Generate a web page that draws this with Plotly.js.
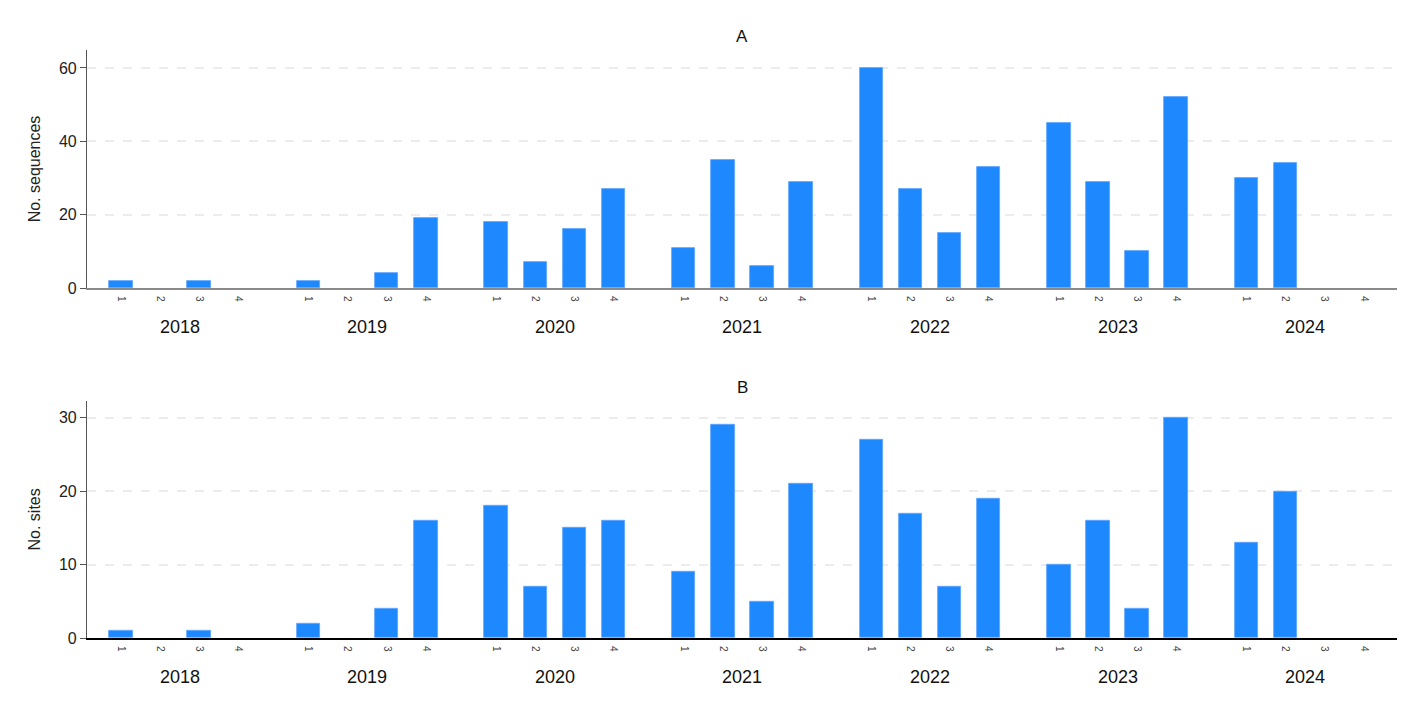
<!DOCTYPE html>
<html>
<head>
<meta charset="utf-8">
<script src="https://cdn.plot.ly/plotly-3.0.1.min.js"></script>
<style>html,body{margin:0;padding:0;background:#fff;}#chart{width:1422px;height:725px;}</style>
</head>
<body>
<div id="chart"></div>
<script>
// ---- data ----
const years = [2018, 2019, 2020, 2021, 2022, 2023, 2024];
const quarters = [1, 2, 3, 4];
const sequences = [
  2, 0, 2, 0,
  2, 0, 4, 19,
  18, 7, 16, 27,
  11, 35, 6, 29,
  60, 27, 15, 33,
  45, 29, 10, 52,
  30, 34, 0, 0
];
const sites = [
  1, 0, 1, 0,
  2, 0, 4, 16,
  18, 7, 15, 16,
  9, 29, 5, 21,
  27, 17, 7, 19,
  10, 16, 4, 30,
  13, 20, 0, 0
];

// ---- layout helpers ----
const YEAR_STEP = 4.8;
const xs = [], tickText = [];
years.forEach((y, yi) => quarters.forEach((q, qi) => { xs.push(yi * YEAR_STEP + qi); tickText.push(String(q)); }));
const yearCenters = years.map((y, yi) => yi * YEAR_STEP + 1.5);

const FONT = 'Liberation Sans, Arial, sans-serif';
const barColor = 'rgb(30,136,255)';

function barTrace(vals, xa, ya) {
  return {
    type: 'bar', x: xs, y: vals, xaxis: xa, yaxis: ya, width: 0.6,
    marker: { color: barColor, line: { color: 'rgb(95,165,255)', width: vals.map(v => v > 0 ? 0.8 : 0) } },
    hoverinfo: 'x+y', showlegend: false
  };
}

const W = 1422, H = 725;
const xDom = [87 / W, 1397 / W];
const xRange = [-0.87, 6 * YEAR_STEP + 3 + 0.85];

function xAxis(lineColor, anchor) {
  return {
    domain: xDom, range: xRange, anchor: anchor,
    tickmode: 'array', tickvals: xs, ticktext: tickText, tickangle: 90,
    tickfont: { family: FONT, size: 10, color: '#444' }, ticklabelstandoff: 4,
    ticks: '', showgrid: false, zeroline: false,
    showline: true, linecolor: lineColor, linewidth: 2, fixedrange: true
  };
}
function yAxis(dom, range, dtick, title, anchor) {
  return {
    domain: dom, range: range, anchor: anchor, dtick: dtick, tick0: 0,
    tickfont: { family: FONT, size: 16, color: '#222' },
    ticks: 'outside', ticklen: 6, tickcolor: '#555', tickwidth: 1,
    showline: true, linecolor: '#555', linewidth: 1.2,
    showgrid: true, gridcolor: '#ececec', griddash: 'dash', gridwidth: 1.5,
    zeroline: false,
    title: { text: title, font: { family: FONT, size: 16, color: '#222' }, standoff: 14 },
    fixedrange: true
  };
}

const annotations = [];
function yearLabels(xref, yPaper) {
  years.forEach((y, i) => annotations.push({
    xref: xref, yref: 'paper', x: yearCenters[i], y: yPaper, text: String(y),
    showarrow: false, xanchor: 'center', yanchor: 'middle',
    font: { family: FONT, size: 18, color: '#111' }
  }));
}
yearLabels('x', 1 - 327 / H);
yearLabels('x2', 1 - 677 / H);
annotations.push({ xref: 'paper', yref: 'paper', x: 742 / W, y: 1 - 37 / H, text: 'A', showarrow: false,
  xanchor: 'center', yanchor: 'middle', font: { family: FONT, size: 17, color: '#111' } });
annotations.push({ xref: 'paper', yref: 'paper', x: 742 / W, y: 1 - 387 / H, text: 'B', showarrow: false,
  xanchor: 'center', yanchor: 'middle', font: { family: FONT, size: 17, color: '#111' } });

const layout = {
  width: W, height: H,
  margin: { l: 0, r: 0, t: 0, b: 0 },
  paper_bgcolor: '#fff', plot_bgcolor: '#fff',
  bargap: 0,
  xaxis: xAxis('#8a8a8a', 'y'),
  yaxis: yAxis([1 - 288 / H, 1 - 50 / H], [0, 64.9], 20, 'No. sequences', 'x'),
  xaxis2: xAxis('#000', 'y2'),
  yaxis2: yAxis([1 - 638 / H, 1 - 400.7 / H], [0, 32.33], 10, 'No. sites', 'x2'),
  annotations: annotations
};

Plotly.newPlot('chart', [barTrace(sequences, 'x', 'y'), barTrace(sites, 'x2', 'y2')], layout,
  { displayModeBar: false, staticPlot: false });
</script>
</body>
</html>
